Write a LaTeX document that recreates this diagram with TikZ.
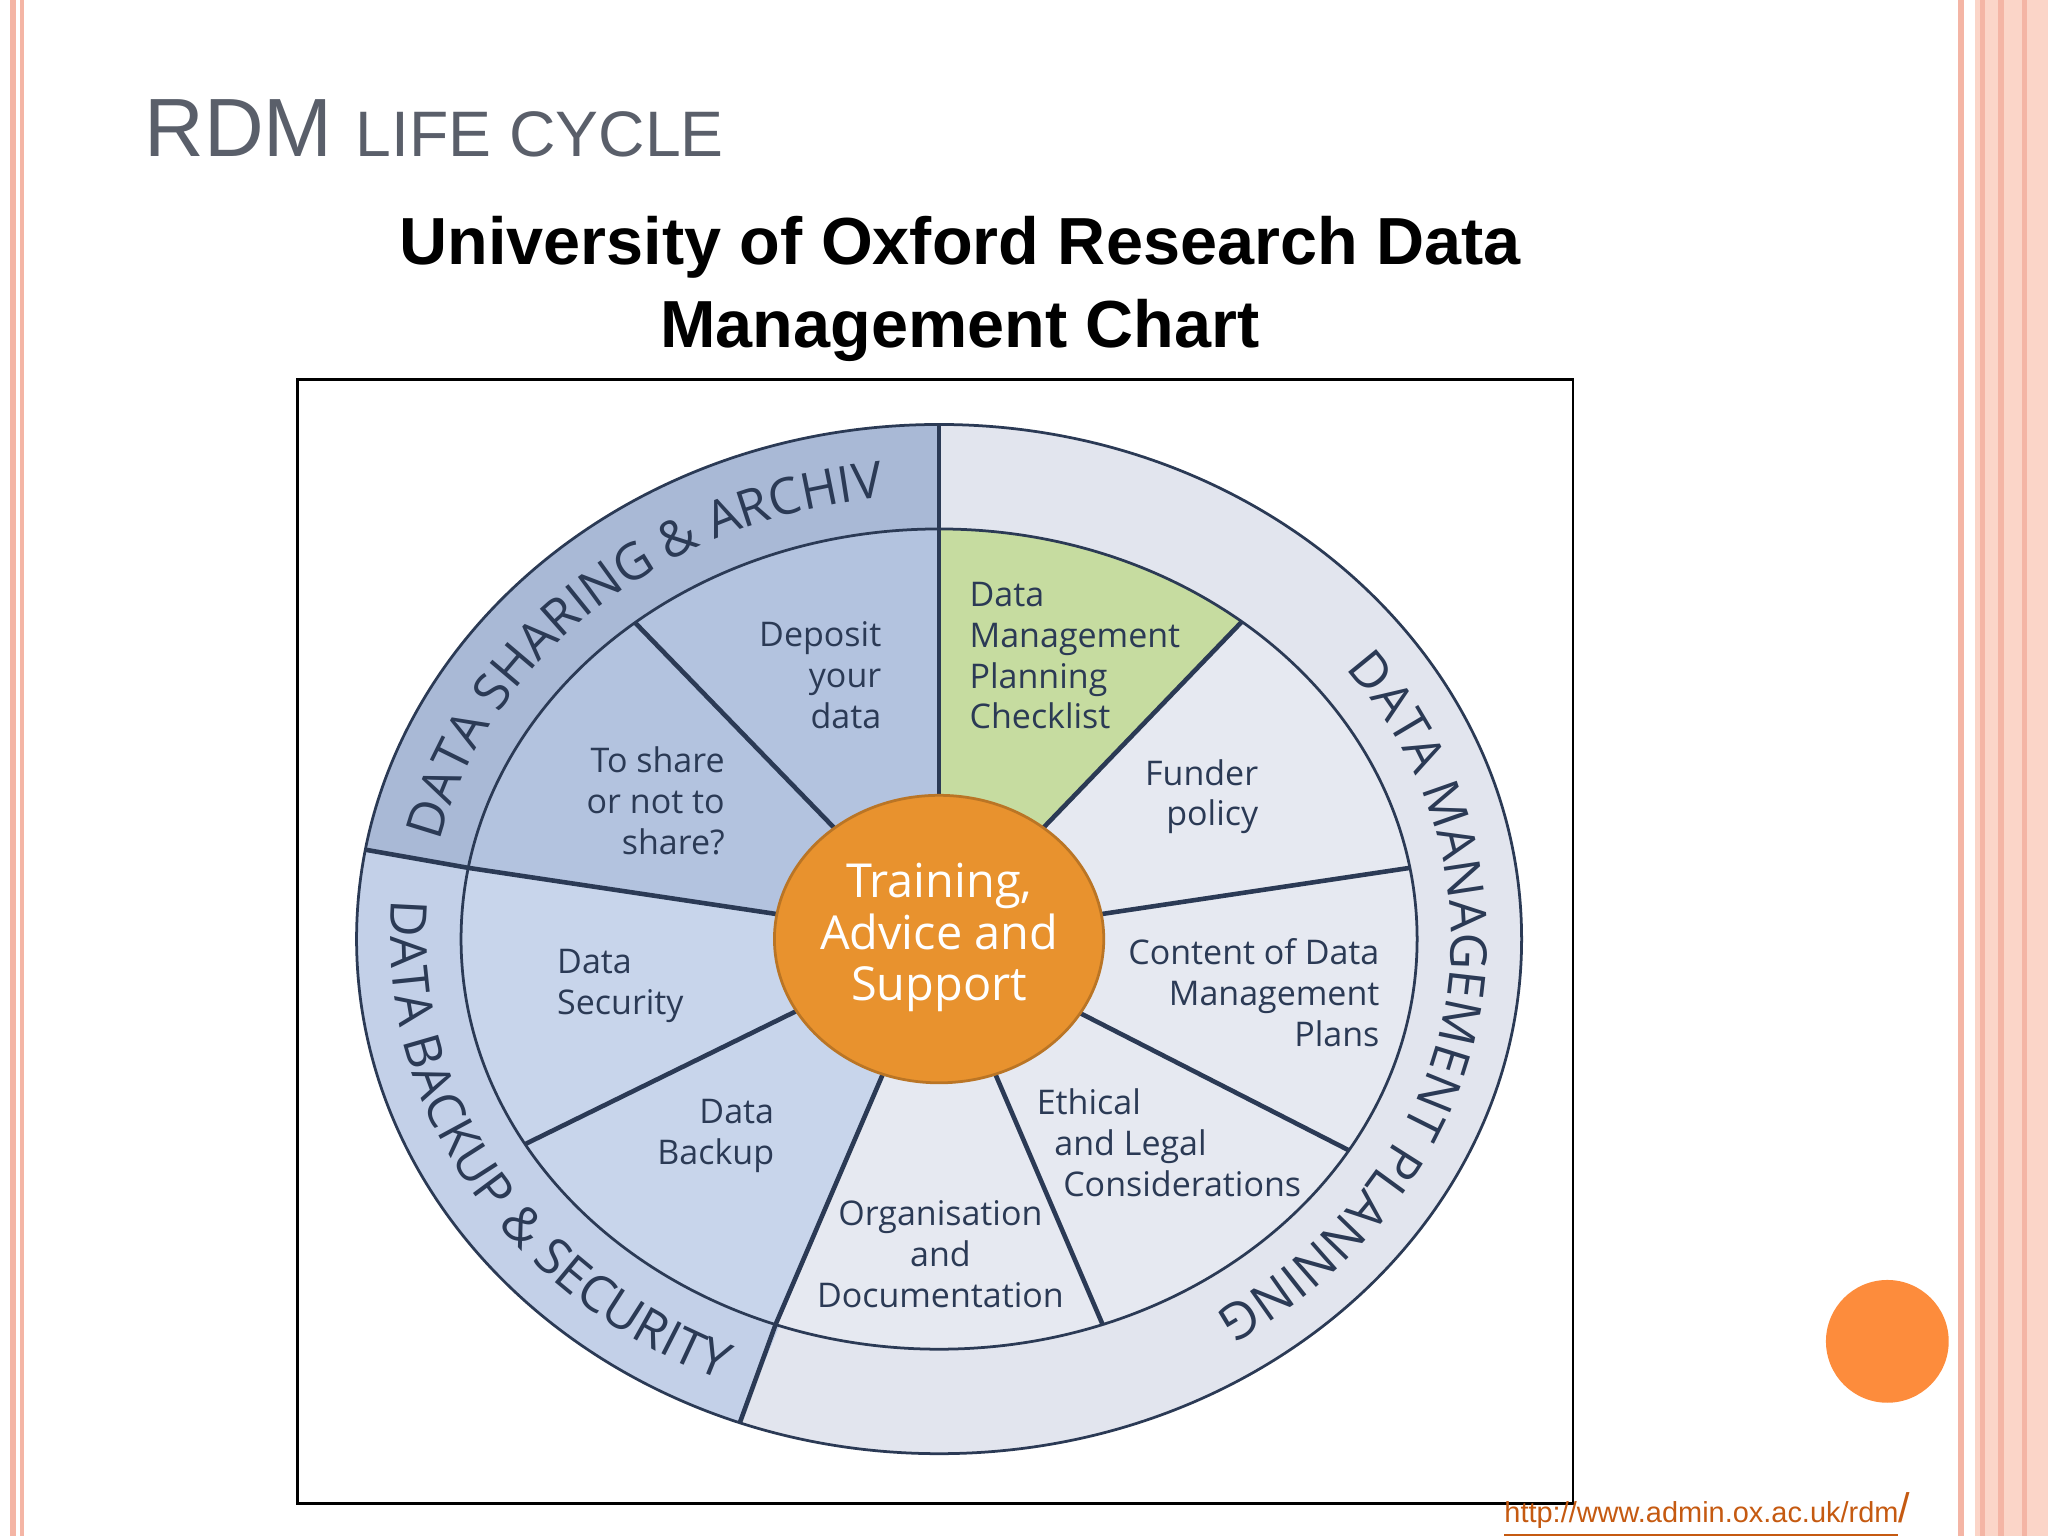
\documentclass[tikz,border=0pt]{standalone}
\usepackage{fontspec}
\setmainfont{Liberation Sans}
\newfontfamily\lbl{Open Sans}
\usetikzlibrary{decorations.text,shapes.geometric}
\definecolor{navy}{HTML}{2B3A55}
\definecolor{bandA}{HTML}{A9B9D6}
\definecolor{bandB}{HTML}{C3D0E8}
\definecolor{bandC}{HTML}{E2E5EE}
\definecolor{blueA}{HTML}{B3C3DF}
\definecolor{blueB}{HTML}{C8D5EB}
\definecolor{grn}{HTML}{C6DCA0}
\definecolor{gry}{HTML}{E6E9F1}
\definecolor{orng}{HTML}{E8922E}
\definecolor{dot}{HTML}{FD8C3C}
\definecolor{pinkl}{HTML}{F4B5A5}
\definecolor{pinkb}{HTML}{FBD5C8}
\definecolor{urlc}{HTML}{C55A11}
\definecolor{ttl}{HTML}{5A5F6A}
\tikzset{
  lab/.style={font=\lbl\fontsize{7.4}{8.9}\selectfont, text=navy, inner sep=0pt},
  band/.style={decorate, decoration={text along path, text align=center, text color=navy}},
  ring/.style={draw=navy, line width=0.6pt}
}
\begin{document}
\begin{tikzpicture}[x=0.01cm,y=0.01cm]
\useasboundingbox (0,0) rectangle (1568,1176);
% slide decorations
\fill[pinkl] (8,0) rectangle (12,1176);
\fill[pinkl] (15,0) rectangle (18,1176);
\fill[pinkl] (1499,0) rectangle (1504,1176);
\fill[pinkb] (1512,0) rectangle (1568,1176);
\fill[pinkl] (1516,0) rectangle (1520,1176);
\fill[pinkl] (1530,0) rectangle (1534,1176);
\fill[pinkl] (1548,0) rectangle (1552,1176);
\node[anchor=base west, text=ttl, inner sep=0pt] (title) at (110,1056) {\fontsize{18}{20}\selectfont RDM \fontsize{14}{16}\selectfont LIFE CYCLE};
\node[align=center, font=\bfseries\fontsize{14.5}{18}\selectfont, inner sep=0pt] (sub) at (735,955) {University of Oxford Research Data\\Management Chart};
\node[draw=black, line width=0.6pt, minimum width=9.76cm, minimum height=8.6cm, inner sep=0pt] (frame) at (716,455) {};
% outer bands
\fill[bandA] (719,457) -- ++(90:446 and 394) arc[start angle=90,end angle=170,x radius=446,y radius=394] -- cycle;
\fill[bandB] (719,457) -- ++(170:446 and 394) arc[start angle=170,end angle=250,x radius=446,y radius=394] -- cycle;
\fill[bandC] (719,457) -- ++(250:446 and 394) arc[start angle=250,end angle=450,x radius=446,y radius=394] -- cycle;
% inner sectors
\fill[gry] (719,457) ellipse[x radius=366,y radius=314];
\fill[grn] (719,457) -- ++(50.7:366 and 314) arc[start angle=50.7,end angle=90,x radius=366,y radius=314] -- cycle;
\fill[blueA] (719,457) -- ++(90:366 and 314) arc[start angle=90,end angle=170,x radius=366,y radius=314] -- cycle;
\fill[blueB] (719,457) -- ++(170:366 and 314) arc[start angle=170,end angle=250,x radius=366,y radius=314] -- cycle;
\draw[ring] (719,457) ellipse[x radius=446,y radius=394];
\draw[ring] (719,457) ellipse[x radius=366,y radius=314];
\foreach \a in {90,170,250}
  \draw[ring, line width=1pt] (719,457) ++(\a:366 and 314) -- ++(\a:80 and 80);
\foreach \a in {50.7,90,129.5,170,210,250,290,329,370}
  \draw[ring, line width=1pt] (719,457) ++(\a:120 and 105) coordinate (s) (719,457) ++(\a:366 and 314) coordinate (e) (s) -- (e);
\node[ellipse, draw=orng!80!black, fill=orng, minimum width=2.52cm, minimum height=2.2cm, inner sep=0pt, line width=0.6pt] (ctr) at (719,457) {};
\node[align=center, text=white, font=\lbl\fontsize{10.2}{11.2}\selectfont] (ctrt) at (719,458) {Training,\\Advice and\\Support};
% band texts
\path[band, decoration={text={|\lbl\fontsize{11}{11}\selectfont|DATA SHARING {\&} ARCHIVE}}]
  (719,457) ++(165:392 and 340) arc[start angle=165,end angle=95,x radius=392,y radius=340];
\path[band, decoration={text={|\lbl\fontsize{11}{11}\selectfont|DATA MANAGEMENT PLANNING}}]
  (719,457) ++(37:392 and 340) arc[start angle=37,end angle=-57,x radius=392,y radius=340];
\path[band, decoration={text={|\lbl\fontsize{11}{11}\selectfont|DATA BACKUP {\&} SECURITY}}]
  (719,457) ++(176:420 and 368) arc[start angle=176,end angle=246,x radius=420,y radius=368];
% labels
\node[lab, align=left] (dmp) at (823,674) {Data\\Management\\Planning\\Checklist};
\node[lab, align=right] (dep) at (628,659) {Deposit\\your\\data};
\node[lab, align=right] (shr) at (502,563) {To share\\or not to\\share?};
\node[lab, align=right] (fun) at (920,566) {Funder\\policy};
\node[lab, align=right] (con) at (960,416) {Content of Data\\Management\\Plans};
\node[lab, align=left] (eth) at (895,301) {Ethical\\\ \ and Legal\\\ \ \ Considerations};
\node[lab, align=center] (org) at (720,216) {Organisation\\and\\Documentation};
\node[lab, align=right] (bak) at (548,306) {Data\\Backup};
\node[lab, align=left] (sec) at (475,421) {Data\\Security};
% orange dot and url
\fill[dot] (1445,149) circle[radius=47];
\node[anchor=base east, text=urlc, inner sep=0pt, font=\fontsize{6.3}{7}\selectfont] (url) at (1463,10) {\underline{http://www.admin.ox.ac.uk/rdm}\fontsize{9}{9}\selectfont/};
\end{tikzpicture}
\end{document}
